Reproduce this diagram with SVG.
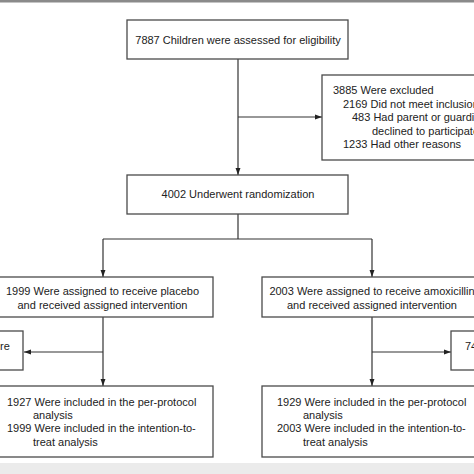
<svg xmlns="http://www.w3.org/2000/svg" width="474" height="474" viewBox="0 0 474 474">
<style>
.box{fill:#fff;stroke:#4a4a4a;stroke-width:1.3}
.ln{fill:none;stroke:#333;stroke-width:1.2}
text{font-family:"Liberation Sans",Arial,sans-serif;font-size:11px;fill:#222}
.c{text-anchor:middle}
</style>
<defs>
<marker id="ah" viewBox="0 0 10 10" refX="10" refY="5" markerWidth="7" markerHeight="7" markerUnits="userSpaceOnUse" orient="auto">
<path d="M0,1.5 L10,5 L0,8.5 Z" fill="#222"/>
</marker>
</defs>
<rect x="0" y="0" width="474" height="474" fill="#fff"/>
<rect x="0" y="0" width="474" height="2.5" fill="#8a8a8a"/>
<rect x="0" y="463" width="474" height="11" fill="#ebebeb"/>
<g id="connectors">
<line class="ln" x1="238" y1="59" x2="238" y2="175" marker-end="url(#ah)"/>
<line class="ln" x1="238" y1="117" x2="322" y2="117" marker-end="url(#ah)"/>
<polyline class="ln" points="238,214 238,239"/>
<polyline class="ln" points="103,239 372,239"/>
<line class="ln" x1="103" y1="239" x2="103" y2="277" marker-end="url(#ah)"/>
<line class="ln" x1="372" y1="239" x2="372" y2="277" marker-end="url(#ah)"/>
<line class="ln" x1="103" y1="317" x2="103" y2="386" marker-end="url(#ah)"/>
<line class="ln" x1="103" y1="352" x2="24" y2="352" marker-end="url(#ah)"/>
<line class="ln" x1="372" y1="317" x2="372" y2="386" marker-end="url(#ah)"/>
<line class="ln" x1="372" y1="352" x2="451" y2="352" marker-end="url(#ah)"/>
</g>
<g id="assessed">
<rect class="box" x="127" y="20" width="221" height="39"/>
<text class="c" x="238" y="44">7887 Children were assessed for eligibility</text>
</g>
<g id="excluded">
<rect class="box" x="322" y="75" width="200" height="85"/>
<text x="333" y="94">3885 Were excluded</text>
<text x="343" y="108">2169 Did not meet inclusion criteria</text>
<text x="352" y="121">483 Had parent or guardian who</text>
<text x="372" y="135">declined to participate</text>
<text x="343" y="148">1233 Had other reasons</text>
</g>
<g id="randomization">
<rect class="box" x="127" y="175" width="221" height="39"/>
<text class="c" x="238" y="198">4002 Underwent randomization</text>
</g>
<g id="placebo">
<rect class="box" x="-20" y="277" width="233" height="40"/>
<text class="c" x="102.5" y="295">1999 Were assigned to receive placebo</text>
<text class="c" x="102.5" y="309">and received assigned intervention</text>
</g>
<g id="amoxicillin">
<rect class="box" x="262" y="277" width="260" height="40"/>
<text class="c" x="372" y="295">2003 Were assigned to receive amoxicillin</text>
<text class="c" x="372" y="309">and received assigned intervention</text>
</g>
<g id="placebo-lost">
<rect class="box" x="-40" y="331" width="63" height="39"/>
<text x="0" y="350">re</text>
</g>
<g id="amoxicillin-lost">
<rect class="box" x="451" y="331" width="60" height="39"/>
<text x="465" y="350">74</text>
</g>
<g id="placebo-analysis">
<rect class="box" x="-20" y="386" width="233" height="71"/>
<text x="7" y="406">1927 Were included in the per-protocol</text>
<text x="33" y="419">analysis</text>
<text x="7" y="432">1999 Were included in the intention-to-</text>
<text x="33" y="446">treat analysis</text>
</g>
<g id="amoxicillin-analysis">
<rect class="box" x="262" y="386" width="260" height="71"/>
<text x="277" y="406">1929 Were included in the per-protocol</text>
<text x="303" y="419">analysis</text>
<text x="277" y="432">2003 Were included in the intention-to-</text>
<text x="303" y="446">treat analysis</text>
</g>
</svg>
